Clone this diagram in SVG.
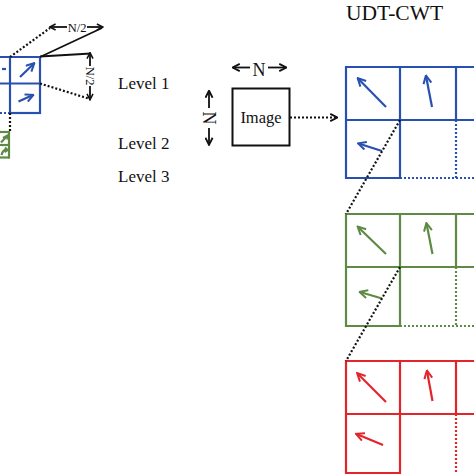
<svg xmlns="http://www.w3.org/2000/svg" width="474" height="474" viewBox="0 0 474 474">
<style>
.t{font-family:"Liberation Serif","Times New Roman",serif;fill:#111}
.bl{stroke:#2850b0;stroke-width:2.2;fill:none}
.gr{stroke:#5e8a45;stroke-width:2.2;fill:none}
.rd{stroke:#e2242b;stroke-width:2.2;fill:none}
.dotb{stroke-dasharray:2,2}
.blk{stroke:#111;stroke-width:1.8;fill:none}
.dk{stroke:#111;stroke-width:2.2;fill:none;stroke-dasharray:2,2}
</style>
<defs>
<marker id="hb" viewBox="0 0 10 10" refX="8.5" refY="5" markerWidth="10" markerHeight="10" markerUnits="userSpaceOnUse" orient="auto"><path d="M1,1 L9,5 L1,9" fill="none" stroke="#2850b0" stroke-width="2"/></marker>
<marker id="hg" viewBox="0 0 10 10" refX="8.5" refY="5" markerWidth="10" markerHeight="10" markerUnits="userSpaceOnUse" orient="auto"><path d="M1,1 L9,5 L1,9" fill="none" stroke="#5e8a45" stroke-width="2"/></marker>
<marker id="hr" viewBox="0 0 10 10" refX="8.5" refY="5" markerWidth="10" markerHeight="10" markerUnits="userSpaceOnUse" orient="auto"><path d="M1,1 L9,5 L1,9" fill="none" stroke="#e2242b" stroke-width="2"/></marker>
<marker id="hk" viewBox="0 0 10 10" refX="8.5" refY="5" markerWidth="9" markerHeight="9" markerUnits="userSpaceOnUse" orient="auto-start-reverse"><path d="M1,1 L9,5 L1,9" fill="none" stroke="#111" stroke-width="2"/></marker>
<marker id="hks" viewBox="0 0 10 10" refX="8.5" refY="5" markerWidth="7.5" markerHeight="7.5" markerUnits="userSpaceOnUse" orient="auto-start-reverse"><path d="M1,1 L9,5 L1,9" fill="none" stroke="#111" stroke-width="2"/></marker>
</defs>

<g id="udt-title"><text class="t" x="346" y="19.5" font-size="21.5">UDT-CWT</text></g>

<g id="levels">
<text class="t" x="118" y="89" font-size="17">Level 1</text>
<text class="t" x="118" y="149" font-size="17">Level 2</text>
<text class="t" x="118" y="182" font-size="17">Level 3</text>
</g>

<g id="image">
<rect x="232.5" y="88.5" width="57" height="57" fill="none" stroke="#111" stroke-width="2"/>
<text class="t" x="261" y="122.5" font-size="16.5" text-anchor="middle">Image</text>
<line class="blk" x1="233" y1="67.5" x2="250" y2="67.5" marker-start="url(#hk)"/>
<line class="blk" x1="268" y1="67.5" x2="286" y2="67.5" marker-end="url(#hk)"/>
<text class="t" x="259" y="75.5" font-size="18" text-anchor="middle">N</text>
<line class="blk" x1="209" y1="91" x2="209" y2="108" marker-start="url(#hk)"/>
<line class="blk" x1="209" y1="128" x2="209" y2="144.5" marker-end="url(#hk)"/>
<text class="t" transform="translate(209,118) rotate(90)" x="0" y="6" font-size="18" text-anchor="middle">N</text>
</g>

<g id="dwt-level1">
<line class="bl" x1="0" y1="57" x2="41" y2="57"/>
<line class="bl" x1="0" y1="83.5" x2="41" y2="83.5"/>
<line class="bl" x1="10" y1="56" x2="10" y2="114"/>
<line class="bl" x1="40" y1="56" x2="40" y2="114"/>
<line class="bl" x1="10" y1="113" x2="41" y2="113"/>
<line class="bl dotb" x1="0" y1="113" x2="10" y2="113"/>
<line class="bl" x1="2" y1="69" x2="6" y2="69"/>
<line class="bl" x1="20" y1="77" x2="34" y2="63.5" marker-end="url(#hb)"/>
<line class="bl" x1="18.5" y1="101.5" x2="33" y2="95" marker-end="url(#hb)"/>
</g>

<g id="dwt-level2">
<line class="gr" x1="0" y1="132" x2="9.5" y2="132"/>
<line class="gr" x1="0" y1="145" x2="9.5" y2="145"/>
<line class="gr" x1="0" y1="157.5" x2="9.5" y2="157.5"/>
<line class="gr" x1="9" y1="131" x2="9" y2="158.5"/>
<line class="gr" x1="1" y1="142.5" x2="7.5" y2="135.5" stroke-width="1.5"/>
<path class="gr" d="M3,138 L7.5,135.5 L7.5,139.5" stroke-width="1.2"/>
<path class="gr" d="M1.5,155 Q3,149 7.5,150" stroke-width="1.5"/>
<path class="gr" d="M5,147.5 L7.5,150 L4.5,152" stroke-width="1.2"/>
</g>

<g id="udt-level1">
<line class="bl" x1="345" y1="67" x2="474" y2="67"/>
<line class="bl" x1="346" y1="120" x2="474" y2="120"/>
<line class="bl" x1="346" y1="66" x2="346" y2="179"/>
<line class="bl" x1="400" y1="66" x2="400" y2="179"/>
<line class="bl" x1="456" y1="66" x2="456" y2="120"/>
<line class="bl dotb" x1="456" y1="120" x2="456" y2="178"/>
<line class="bl" x1="345" y1="178" x2="400" y2="178"/>
<line class="bl dotb" x1="400" y1="178" x2="474" y2="178"/>
<line class="bl" x1="386" y1="107" x2="358" y2="78.5" marker-end="url(#hb)"/>
<line class="bl" x1="432" y1="107" x2="426" y2="76" marker-end="url(#hb)"/>
<line class="bl" x1="382" y1="151" x2="358.5" y2="143.5" marker-end="url(#hb)"/>
</g>

<g id="udt-level2">
<line class="gr" x1="345" y1="214" x2="474" y2="214"/>
<line class="gr" x1="346" y1="267" x2="474" y2="267"/>
<line class="gr" x1="346" y1="213" x2="346" y2="327"/>
<line class="gr" x1="400" y1="213" x2="400" y2="327"/>
<line class="gr" x1="456" y1="213" x2="456" y2="267"/>
<line class="gr dotb" x1="456" y1="267" x2="456" y2="326"/>
<line class="gr" x1="345" y1="326" x2="400" y2="326"/>
<line class="gr dotb" x1="400" y1="326" x2="474" y2="326"/>
<line class="gr" x1="386" y1="254" x2="358" y2="227" marker-end="url(#hg)"/>
<line class="gr" x1="432.5" y1="254" x2="426.5" y2="223.5" marker-end="url(#hg)"/>
<line class="gr" x1="382" y1="298.5" x2="360" y2="292" marker-end="url(#hg)"/>
</g>

<g id="udt-level3">
<line class="rd" x1="345" y1="361" x2="474" y2="361"/>
<line class="rd" x1="346" y1="414" x2="474" y2="414"/>
<line class="rd" x1="346" y1="360" x2="346" y2="474"/>
<line class="rd" x1="400" y1="360" x2="400" y2="474"/>
<line class="rd" x1="456" y1="360" x2="456" y2="414"/>
<line class="rd dotb" x1="456" y1="414" x2="456" y2="474"/>
<line class="rd" x1="345" y1="473" x2="400" y2="473"/>
<line class="rd" x1="386" y1="402" x2="357.5" y2="373.5" marker-end="url(#hr)"/>
<line class="rd" x1="432.5" y1="401" x2="427" y2="371" marker-end="url(#hr)"/>
<line class="rd" x1="383" y1="445" x2="356.5" y2="434" marker-end="url(#hr)"/>
</g>

<g id="connectors">
<line class="dk" x1="290" y1="117.5" x2="337" y2="117.5" stroke-dasharray="3,2" marker-end="url(#hk)"/>
<line class="dk" x1="400" y1="120" x2="346" y2="214"/>
<line class="dk" x1="400" y1="267" x2="346" y2="361"/>
<line class="dk" x1="10" y1="113" x2="10" y2="132"/>
<line class="dk" x1="10" y1="57" x2="50" y2="28"/>
<line class="blk" x1="40" y1="57" x2="102" y2="28"/>
<line class="blk" x1="40" y1="56.5" x2="91" y2="53.5"/>
<line class="dk" x1="40" y1="83.5" x2="90" y2="99"/>
</g>

<g id="dims-half">
<line class="blk" x1="50" y1="27" x2="67" y2="27" marker-start="url(#hks)"/>
<line class="blk" x1="87" y1="27" x2="102.5" y2="27" marker-end="url(#hks)"/>
<text class="t" x="77" y="31.5" font-size="12.5" text-anchor="middle">N/2</text>
<line class="blk" x1="90" y1="53" x2="90" y2="66" marker-start="url(#hks)"/>
<line class="blk" x1="90" y1="86" x2="90" y2="99.5" marker-end="url(#hks)"/>
<text class="t" transform="translate(90,76) rotate(90)" x="0" y="4" font-size="12.5" text-anchor="middle">N/2</text>
</g>
</svg>
